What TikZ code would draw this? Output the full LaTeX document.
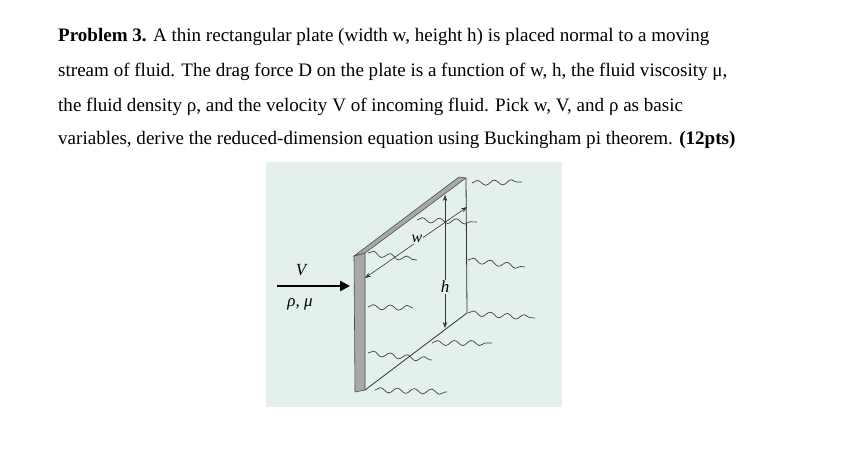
\documentclass[tikz,border=0pt]{standalone}
\usepackage{fontspec}
\setmainfont{Liberation Serif}
\usetikzlibrary{decorations.pathmorphing,arrows.meta}
\definecolor{bgc}{HTML}{E4F0EE}
\definecolor{stripc}{HTML}{A8A8A8}
\tikzset{txt/.style={anchor=west,inner sep=0pt,font=\fontsize{19.05}{22}\selectfont},
wav/.style={draw=black!75,line width=0.7pt,decorate,decoration={snake,amplitude=2.5pt,segment length=17pt}},
edge/.style={draw=black!80,line width=0.8pt},
dim/.style={draw=black!80,line width=0.6pt,{Stealth[length=6pt]}-{Stealth[length=6pt]}}}
\begin{document}
\begin{tikzpicture}[x=1pt,y=-1pt]
\useasboundingbox (0,0) rectangle (858,458);
\fill[white] (0,0) rectangle (858,458);
\node[txt] (l1) at (58,37) {\textbf{Problem 3.} A thin rectangular plate (width w, height h) is placed normal to a moving};
\node[txt] (l2) at (58,72) {stream of fluid. The drag force D on the plate is a function of w, h, the fluid viscosity μ,};
\node[txt] (l3) at (58,107) {the fluid density ρ, and the velocity V of incoming fluid. Pick w, V, and ρ as basic};
\node[txt] (l4) at (58,140) {variables, derive the reduced-dimension equation using Buckingham pi theorem. \textbf{(12pts)}};
\fill[bgc] (266,162) rectangle (562,407);
% plate
\coordinate (ft) at (365,253); \coordinate (fb) at (365,390);
\coordinate (bt) at (466,178); \coordinate (bb) at (467,313);
\filldraw[fill=stripc,draw=black!70,line width=0.6pt] (354,256) -- (355,392) -- (365,390) -- (365,253) -- cycle;
\filldraw[fill=stripc,draw=black!70,line width=0.6pt] (354,256) -- (459,177) -- (466,178) -- (365,253) -- cycle;
\draw[edge] (bt) -- (bb) -- (fb);
% dims
\draw[dim] (365,278) -- (467,207);
\node[fill=bgc,inner sep=1pt,font=\itshape\fontsize{16}{16}\selectfont] (w) at (417,239) {w};
\draw[dim] (445,195) -- (445,328);
\node[fill=bgc,inner sep=1pt,font=\itshape\fontsize{17}{17}\selectfont] (h) at (445,287) {h};
% flow arrow
\coordinate (va) at (277,286); \coordinate (vb) at (350,286);
\draw[line width=2.8pt,-{Triangle[length=10pt,width=10pt]}] (va) -- (vb);
\node[font=\itshape\fontsize{17}{17}\selectfont] (V) at (301,270) {V};
\node[font=\itshape\fontsize{17}{17}\selectfont] (rm) at (300,304) {ρ, μ};
% wavy lines
\draw[wav] (472,183) -- (522,182);
\draw[wav] (417,220) -- (477,222);
\draw[wav] (368,253) -- (417,260);
\draw[wav] (468,260) -- (525,267);
\draw[wav] (368,307) -- (413,308);
\draw[wav] (468,313) -- (535,318);
\draw[wav] (432,343) -- (492,343);
\draw[wav] (368,353) -- (432,360);
\draw[wav] (375,390) -- (447,392);
\end{tikzpicture}
\end{document}
